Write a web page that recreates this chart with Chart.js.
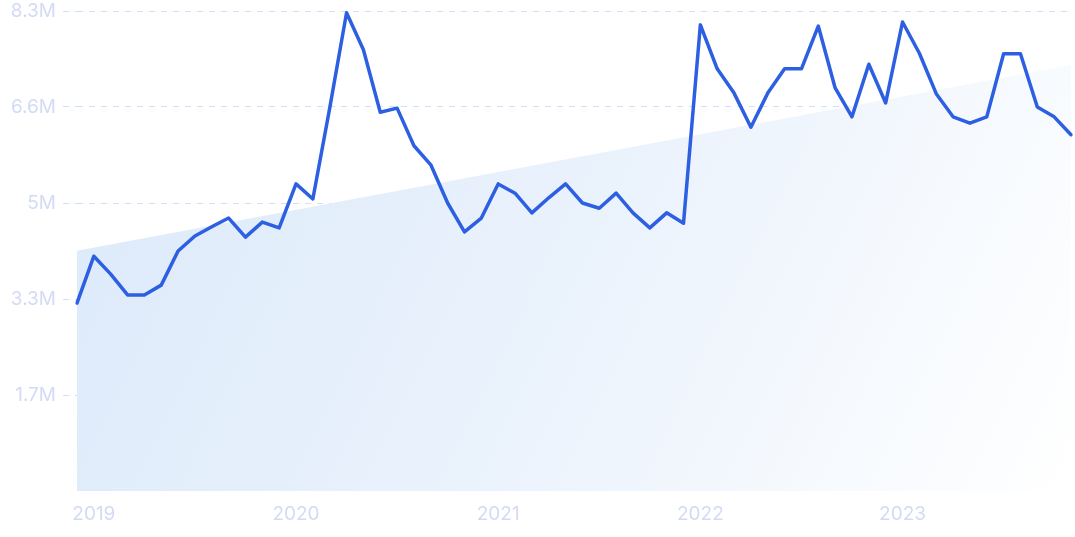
<!DOCTYPE html>
<html>
<head>
<meta charset="utf-8">
<script src="https://cdn.jsdelivr.net/npm/chart.js@4"></script>
<style>
  html, body { margin: 0; padding: 0; background: #ffffff; }
  #wrap { width: 1075px; height: 537px; position: relative; }
</style>
</head>
<body>
<div id="wrap"><canvas id="c" width="1075" height="537"></canvas></div>
<script>
const months = [
  'Dec 2018',
  'Jan 2019','Feb 2019','Mar 2019','Apr 2019','May 2019','Jun 2019','Jul 2019','Aug 2019','Sep 2019','Oct 2019','Nov 2019','Dec 2019',
  'Jan 2020','Feb 2020','Mar 2020','Apr 2020','May 2020','Jun 2020','Jul 2020','Aug 2020','Sep 2020','Oct 2020','Nov 2020','Dec 2020',
  'Jan 2021','Feb 2021','Mar 2021','Apr 2021','May 2021','Jun 2021','Jul 2021','Aug 2021','Sep 2021','Oct 2021','Nov 2021','Dec 2021',
  'Jan 2022','Feb 2022','Mar 2022','Apr 2022','May 2022','Jun 2022','Jul 2022','Aug 2022','Sep 2022','Oct 2022','Nov 2022','Dec 2022',
  'Jan 2023','Feb 2023','Mar 2023','Apr 2023','May 2023','Jun 2023','Jul 2023','Aug 2023','Sep 2023','Oct 2023','Nov 2023'
];

const searchVolume = [
  3250000,
  4060000, 3750000, 3390000, 3390000, 3560000, 4150000, 4410000, 4570000, 4720000, 4390000, 4650000, 4550000,
  5310000, 5050000, 6620000, 8270000, 7630000, 6550000, 6620000, 5970000, 5640000, 4980000, 4480000, 4720000,
  5310000, 5150000, 4810000, 5070000, 5310000, 4980000, 4890000, 5150000, 4810000, 4550000, 4810000, 4630000,
  8060000, 7300000, 6880000, 6290000, 6880000, 7300000, 7300000, 8040000, 6970000, 6470000, 7380000, 6710000,
  8110000, 7570000, 6870000, 6470000, 6360000, 6470000, 7560000, 7560000, 6640000, 6470000, 6160000
];

const trendMonths = ['Dec 2018', 'Nov 2023'];
const trendValues = [4155000, 7366000];

const yTickValues = [1660000, 3320000, 4980000, 6640000, 8300000];
const yTickLabels = ['1.7M', '3.3M', '5M', '6.6M', '8.3M'];
const xTickLabels = { 'Jan 2019': '2019', 'Jan 2020': '2020', 'Jan 2021': '2021', 'Jan 2022': '2022', 'Jan 2023': '2023' };

const labelColor = '#d3dbf4';
const gridColor = '#cde2f8';

function trendFill(ctx) {
  const chart = ctx.chart;
  const a = chart.chartArea;
  if (!a) return 'rgba(220,234,250,1)';
  const g = chart.ctx.createLinearGradient(a.left, a.top, a.right, a.bottom);
  g.addColorStop(0, 'rgba(219,233,250,1)');
  g.addColorStop(0.5, 'rgba(234,242,252,1)');
  g.addColorStop(1, 'rgba(255,255,255,1)');
  return g;
}

new Chart(document.getElementById('c'), {
  type: 'line',
  data: {
    labels: months,
    datasets: [
      {
        data: searchVolume,
        borderColor: '#2d5fe2',
        borderWidth: 3.5,
        pointRadius: 0,
        tension: 0,
        fill: false,
        borderJoinStyle: 'round',
        borderCapStyle: 'round'
      },
      {
        data: trendMonths.map((m, i) => ({ x: m, y: trendValues[i] })),
        borderWidth: 0,
        borderColor: 'rgba(0,0,0,0)',
        backgroundColor: trendFill,
        pointRadius: 0,
        tension: 0,
        spanGaps: true,
        fill: 'origin'
      }
    ]
  },
  options: {
    responsive: false,
    animation: false,
    devicePixelRatio: 1,
    layout: { padding: { top: 11, right: 4, left: 0, bottom: 0 } },
    plugins: { legend: { display: false }, tooltip: { enabled: false } },
    scales: {
      x: {
        type: 'category',
        offset: false,
        afterFit: (s) => { s.height = 46; s.paddingLeft = 0; s.paddingRight = 0; },
        grid: { display: false, drawTicks: false, tickLength: 0 },
        border: { display: false },
        ticks: {
          autoSkip: false,
          maxRotation: 0,
          minRotation: 0,
          padding: 12,
          color: labelColor,
          font: { family: 'Inter', size: 19 },
          callback: function (v, i) {
            const m = this.getLabelForValue(v);
            return xTickLabels[m] || '';
          }
        }
      },
      y: {
        z: 1,
        min: 0,
        max: 8300000,
        afterBuildTicks: (scale) => { scale.ticks = yTickValues.map(v => ({ value: v })); },
        afterFit: (s) => { s.width = 77; s.paddingTop = 0; s.paddingBottom = 0; },
        grid: {
          color: gridColor,
          lineWidth: 1,
          tickLength: 14,
          tickColor: gridColor,
          tickBorderDash: [6, 6]
        },
        border: { display: false, dash: [6, 6] },
        ticks: {
          padding: 7,
          color: labelColor,
          font: { family: 'Inter', size: 19 },
          callback: function (v, i) { return yTickLabels[i]; }
        }
      }
    }
  }
});
</script>
</body>
</html>
